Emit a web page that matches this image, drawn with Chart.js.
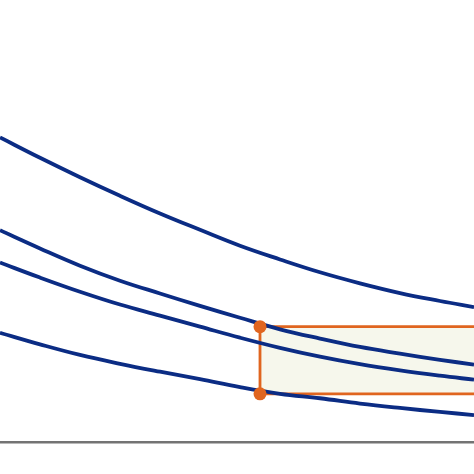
<html lang="en">
<head>
  <meta charset="UTF-8">
  <title>Curves with band</title>
  <style>
    body { margin: 0; background: #fff; }
    #wrap { width: 474px; height: 474px; }
  </style>
  <script src="https://cdn.jsdelivr.net/npm/chart.js@4.4.1/dist/chart.umd.min.js"></script>
</head>
<body>
  <div id="wrap"><canvas id="lineChart"></canvas></div>
  <script>
    // x positions of the sampled points
    const xs = [0, 1, 2, 3, 4, 5, 6, 7, 8, 9, 10, 11, 11.85]
    // the four curves, top to bottom
    const curveA = [6.89, 6.43, 5.99, 5.57, 5.17, 4.80, 4.44, 4.13, 3.84, 3.59, 3.37, 3.19, 3.05]
    const curveB = [4.79, 4.38, 3.99, 3.65, 3.36, 3.08, 2.81, 2.55, 2.34, 2.15, 2.00, 1.86, 1.75]
    const curveC = [4.06, 3.72, 3.40, 3.11, 2.86, 2.61, 2.36, 2.13, 1.93, 1.76, 1.62, 1.50, 1.41]
    const curveD = [2.47, 2.21, 1.97, 1.77, 1.59, 1.42, 1.24, 1.09, 0.99, 0.87, 0.77, 0.68, 0.61]
    // highlighted band
    const bandStart = 6.5
    const bandEnd = 13
    const bandTop = 2.61
    const bandBottom = 1.09

    const blue = "#0b2c84"
    const orange = "#e0651f"

    const toPoints = (vals) => vals.map((v, i) => ({ x: xs[i], y: v }))
    const curve = (vals) => ({
      data: toPoints(vals),
      borderColor: blue,
      borderWidth: 3.8,
      pointRadius: 0,
      tension: 0.4,
      fill: false
    })

    const data = {
      datasets: [
        {
          data: [{ x: bandStart, y: bandTop }, { x: bandStart, y: bandBottom }],
          showLine: false,
          pointRadius: 6.5,
          pointBackgroundColor: orange,
          pointBorderWidth: 0
        },
        curve(curveA),
        curve(curveB),
        curve(curveC),
        curve(curveD),
        {
          data: [
            { x: bandEnd, y: bandTop },
            { x: bandStart, y: bandTop },
            { x: bandStart, y: bandBottom },
            { x: bandEnd, y: bandBottom }
          ],
          borderColor: orange,
          borderWidth: 2.8,
          backgroundColor: "#f6f7ec",
          pointRadius: 0,
          tension: 0,
          fill: "shape"
        }
      ]
    }

    const config = {
      type: "line",
      data,
      options: {
        responsive: true,
        maintainAspectRatio: false,
        animation: false,
        layout: { autoPadding: false, padding: { left: 0, right: 0, top: 0, bottom: 32 } },
        plugins: { legend: { display: false }, tooltip: { enabled: false } },
        scales: {
          x: {
            type: "linear",
            min: 0,
            max: 11.85,
            grid: { display: true, drawOnChartArea: false, drawTicks: false },
            ticks: { display: false },
            border: { display: true, color: "#737373", width: 2.6 }
          },
          y: {
            display: false,
            min: 0,
            max: 10
          }
        }
      }
    }

    new Chart(document.getElementById("lineChart"), config)
  </script>
</body>
</html>
